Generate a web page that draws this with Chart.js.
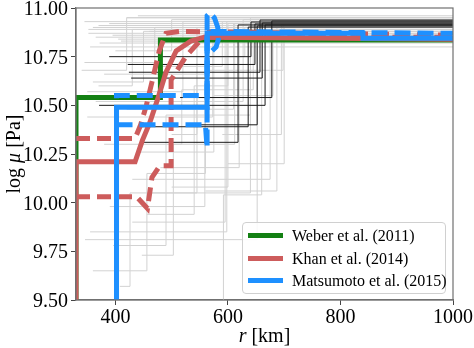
<!DOCTYPE html>
<html>
<head>
<meta charset="utf-8">
<script src="https://cdn.jsdelivr.net/npm/chart.js@4"></script>
<style>
  html, body { margin: 0; padding: 0; background: #fff; overflow: hidden; }
  #wrap { position: relative; width: 474px; height: 348px;
    font-family: "Liberation Serif", "Times New Roman", serif; color: #000; }
  #legend { position: absolute; left: 242px; top: 222px; width: 202px; height: 70px;
    border: 1px solid #d0d0d0; border-radius: 4px; background: rgba(255,255,255,0.85);
    font-size: 16px; }
  .row { position: absolute; left: 0; height: 20px; width: 100%; }
  .sw { position: absolute; left: 5px; top: 7px; width: 35px; height: 5px; }
  .lb { position: absolute; left: 49px; top: 0px; line-height: 20px; white-space: nowrap; }
  .tk { position: absolute; font-size: 20px; line-height: 20px; white-space: nowrap; }
</style>
</head>
<body>
<div id="wrap">
  <canvas id="c" width="474" height="348"></canvas>
  <div id="legend"></div>
</div>
<script>
// ---------- axes ----------
const xTicks = [400, 600, 800, 1000];
const yTicks = [9.5, 9.75, 10.0, 10.25, 10.5, 10.75, 11.0];

// ---------- reference models ----------
const weberR = [330, 330, 480, 480, 1000];
const weberV = [9.0, 10.54, 10.54, 10.835, 10.835];

const khanR = [330, 330, 435, 448, 461, 476, 490, 508, 534, 558, 1000];
const khanV = [9.0, 10.21, 10.21, 10.32, 10.41, 10.54, 10.67, 10.78, 10.83, 10.85, 10.84];

const khanDashAR = [330, 435, 445, 455, 465, 478, 490, 515, 1000];
const khanDashAV = [10.33, 10.33, 10.40, 10.50, 10.62, 10.78, 10.87, 10.88, 10.86];

const khanDashBR = [330, 438, 457, 465, 479, 499, 499, 525, 556, 1000];
const khanDashBV = [10.03, 10.03, 9.97, 10.13, 10.19, 10.19, 10.63, 10.75, 10.85, 10.85];

const matsuR = [402, 402, 563, 563, 840, 840, 1000];
const matsuV = [9.0, 10.49, 10.49, 10.87, 10.87, 10.845, 10.845];

const matsuDashAR = [402, 402, 563, 563, 1000];
const matsuDashAV = [9.0, 10.55, 10.55, 10.88, 10.87];

const matsuDashBR = [402, 560, 563, 563, 568, 576, 582, 583, 579, 572];
const matsuDashBV = [10.40, 10.40, 10.28, 10.96, 10.975, 10.95, 10.90, 10.84, 10.80, 10.78];

// ---------- black sample profiles: start r, lower value, step r, upper value ----------
const blackR0   = [389, 422, 424, 428, 515, 371, 533, 446, 449];
const blackV0   = [10.75, 10.71, 10.67, 10.64, 10.54, 10.50, 10.40, 10.39, 10.31];
const blackRv   = [641, 648, 657, 661, 678, 666, 652, 636, 618];
const blackVtop = [10.928, 10.918, 10.938, 10.923, 10.933, 10.913, 10.908, 10.902, 10.913];

// ---------- gray ensemble profiles: r0,v1 -> r1,v2 -> r2,v3 (null = no second step) ----------
const grayR0 = [408, 360, 447, 396, 346, 355, 430, 456, 462, 500, 480, 440, 420, 560, 592, 600, 590, 575,
                389, 370, 352, 352, 365, 405, 372, 355, 420, 440, 460, 345, 360, 350, 380, 400, 470, 500,
                380, 350, 365, 430, 390, 345, 360, 395, 410, 340, 370];
const grayV1 = [9.57, 9.65, 9.73, 9.78, 9.81, 9.85, 9.90, 9.94, 10.05, 10.08, 10.18, 10.26, 10.48, 10.06, 9.3, 10.20, 10.35, 10.55,
                10.92, 10.91, 10.89, 10.87, 10.85, 10.84, 10.82, 10.80, 10.95, 10.96, 10.88, 10.72, 10.62, 10.57, 10.66, 10.78, 10.70, 10.35,
                10.30, 10.44, 10.52, 10.12, 9.98, 10.93, 10.90, 10.86, 10.83, 10.68, 10.60];
const grayR1 = [426, 456, 503, 490, 652, 598, 595, 540, 640, 600, 620, 575, 610, 687, 592, 700, 695, 680,
                1000, 1000, 1000, 1000, 1000, 1000, 1000, 1000, 1000, 1000, 1000, 470, 450, 520, 560, 500, 590, 545,
                518, 573, 627, 675, 559, 1000, 1000, 1000, 1000, 420, 430];
const grayV2 = [10.05, 10.15, 10.30, 10.45, 10.90, 10.93, 10.84, 10.60, 10.95, 10.92, 10.86, 10.83, 10.92, 10.90, 10.04, 10.90, 10.92, 10.89,
                10.92, 10.91, 10.89, 10.87, 10.85, 10.84, 10.82, 10.80, 10.95, 10.96, 10.88, 10.90, 10.88, 10.93, 10.86, 10.94, 10.93, 10.75,
                10.58, 10.87, 10.94, 10.89, 10.68, 10.93, 10.90, 10.86, 10.83, 10.95, 10.89];
const grayR2 = [545, 560, 612, 640, null, null, null, 600, null, null, null, null, null, null, 660, null, null, null,
                null, null, null, null, null, null, null, null, null, null, null, null, null, null, null, null, null, 630,
                645, null, null, null, 698, null, null, null, null, null, null];
const grayV3 = [10.90, 10.86, 10.92, 10.88, null, null, null, 10.90, null, null, null, null, null, null, 10.91, null, null, null,
                null, null, null, null, null, null, null, null, null, null, null, null, null, null, null, null, null, 10.90,
                10.91, null, null, null, 10.92, null, null, null, null, null, null];

// ---------- build datasets ----------
function pts(rs, vs) { return rs.map((r, i) => ({ x: r, y: vs[i] })); }
function stepProfile(r0, v1, r1, v2, r2, v3) {
  const p = [{x: r0, y: v1}, {x: r1, y: v1}];
  if (r1 < 1000) {
    p.push({x: r1, y: v2});
    if (r2 != null) { p.push({x: r2, y: v2}, {x: r2, y: v3}); p.push({x: 1000, y: v3}); }
    else p.push({x: 1000, y: v2});
  }
  return p;
}
const GREEN = '#138013', RED = '#cd5c5c', BLUE = '#1e90ff';
const datasets = [];
function add(data, color, width, dash) {
  datasets.push({ data, borderColor: color, borderWidth: width, borderDash: dash || [],
    showLine: true, pointRadius: 0, tension: 0, fill: false, clip: 0,
    borderCapStyle: 'butt', borderJoinStyle: 'miter' });
}
// top-most first
add(pts(matsuR, matsuV), BLUE, 5);
add(pts(matsuDashAR, matsuDashAV), BLUE, 5, [16, 7]);
add(pts(matsuDashBR, matsuDashBV), BLUE, 5, [16, 7]);
add(pts(khanR, khanV), RED, 5);
add(pts(khanDashAR, khanDashAV), RED, 5, [14, 7]);
add(pts(khanDashBR, khanDashBV), RED, 5, [14, 7]);
add(pts(weberR, weberV), GREEN, 5);
for (let i = 0; i < blackR0.length; i++)
  add(stepProfile(blackR0[i], blackV0[i], blackRv[i], blackVtop[i], null, null), '#1a1a1a', 1);
for (let i = 0; i < grayR0.length; i++)
  add(stepProfile(grayR0[i], grayV1[i], grayR1[i], grayV2[i], grayR2[i], grayV3[i]), '#d2d2d2', 1);

const framePlugin = {
  id: 'frame',
  afterDraw(chart) {
    const { ctx, chartArea: a } = chart;
    ctx.save();
    ctx.strokeStyle = '#707070';
    ctx.lineWidth = 1.2;
    ctx.strokeRect(a.left, a.top, a.right - a.left, a.bottom - a.top);
    ctx.restore();
  }
};

const chart = new Chart(document.getElementById('c'), {
  type: 'scatter',
  data: { datasets },
  options: {
    responsive: false, animation: false, events: [],
    layout: { padding: { top: 8, right: 21, left: 0, bottom: 0 } },
    plugins: { legend: { display: false }, tooltip: { enabled: false } },
    scales: {
      x: {
        type: 'linear', min: 330, max: 1000,
        afterBuildTicks: s => { s.ticks = xTicks.map(v => ({ value: v })); },
        afterFit: s => { s.height = 48; },
        ticks: { display: false },
        grid: { display: true, drawOnChartArea: false, tickLength: 5, color: '#444', tickWidth: 1 },
        border: { display: true, color: '#707070', width: 1.2 }
      },
      y: {
        type: 'linear', min: 9.5, max: 11.0,
        afterBuildTicks: s => { s.ticks = yTicks.map(v => ({ value: v })); },
        afterFit: s => { s.width = 76; },
        ticks: { display: false },
        grid: { display: true, drawOnChartArea: false, tickLength: 5, color: '#444', tickWidth: 1 },
        border: { display: true, color: '#707070', width: 1.2 }
      }
    }
  },
  plugins: [framePlugin]
});

// ---------- text as HTML (tick labels, axis titles) ----------
const wrap = document.getElementById('wrap');
const area = chart.chartArea;
function addText(html, css) {
  const d = document.createElement('div');
  d.className = 'tk'; d.innerHTML = html;
  Object.assign(d.style, css);
  wrap.appendChild(d);
  return d;
}
xTicks.forEach(v => {
  const px = chart.scales.x.getPixelForValue(v);
  addText(String(v), { left: (px - 50) + 'px', width: '100px', textAlign: 'center', top: (area.bottom + 6) + 'px' });
});
yTicks.forEach(v => {
  const py = chart.scales.y.getPixelForValue(v);
  addText(v.toFixed(2), { left: (area.left - 8 - 80) + 'px', width: '80px', textAlign: 'right', top: (py - 10) + 'px' });
});
const cx = (area.left + area.right) / 2;
addText('<i>r</i> [km]', { left: (cx - 60) + 'px', width: '120px', textAlign: 'center', top: '325px' });
const cy = (area.top + area.bottom) / 2;
addText('log <i>\u03bc</i> [Pa]', { left: (13 - 70) + 'px', width: '140px', textAlign: 'center',
  top: (cy - 10) + 'px', transform: 'rotate(-90deg)' });

// legend
const legendItems = [['Weber et al. (2011)', GREEN], ['Khan et al. (2014)', RED], ['Matsumoto et al. (2015)', BLUE]];
const lg = document.getElementById('legend');
legendItems.forEach((it, i) => {
  const row = document.createElement('div');
  row.className = 'row'; row.style.top = (3 + i * 22.5) + 'px';
  const sw = document.createElement('div'); sw.className = 'sw'; sw.style.background = it[1];
  const lb = document.createElement('div'); lb.className = 'lb'; lb.textContent = it[0];
  row.appendChild(sw); row.appendChild(lb); lg.appendChild(row);
});
</script>
</body>
</html>
